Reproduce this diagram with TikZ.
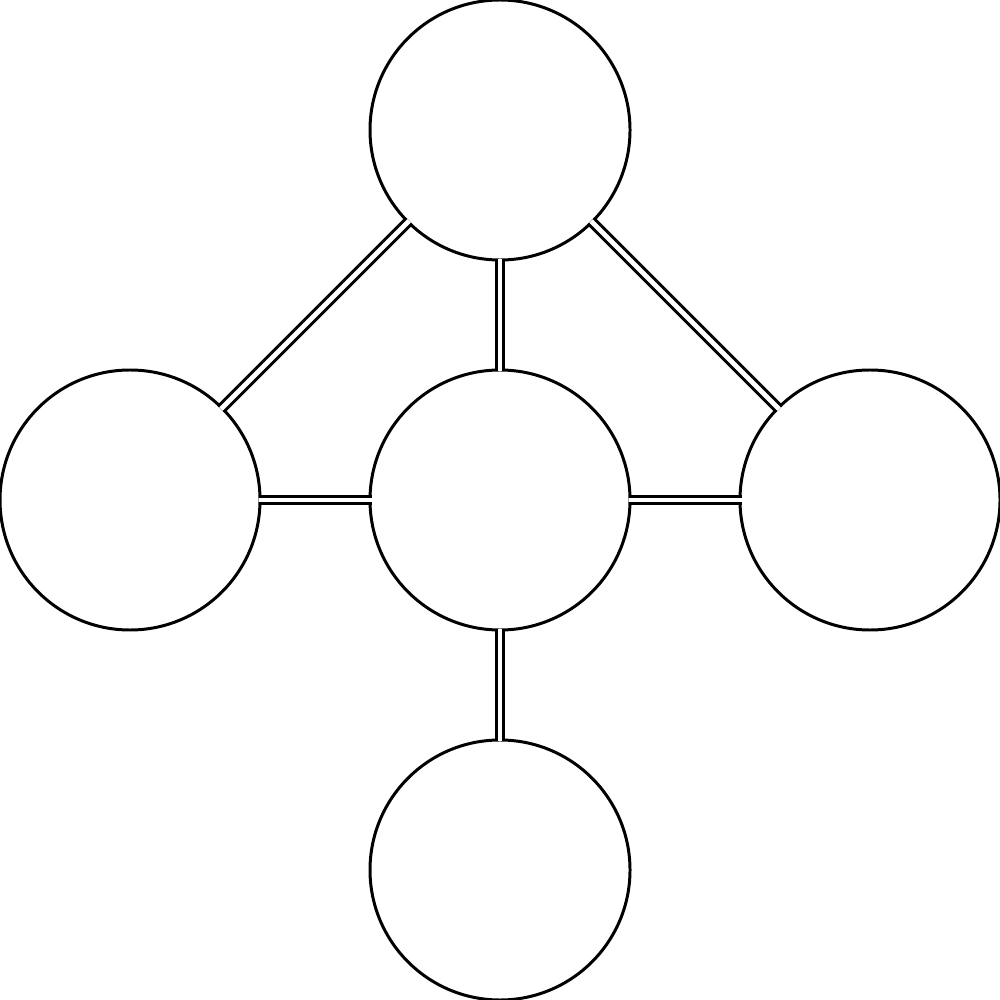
\documentclass[tikz,border=0pt]{standalone}
\usetikzlibrary{positioning}
\tikzset{
	bubble/.style={
		circle,
		draw=black, line width=0.85pt,
		fill=white,
		inner sep=0pt,
		minimum size=2.6cm},
	link/.style={
		draw=black, line width=0.85pt,
		double=white, double distance=1.4pt,
		shorten <=-0.85pt, shorten >=-0.85pt},
}
\begin{document}
\begin{tikzpicture}[node distance=1.07cm]
	\useasboundingbox (0,0) rectangle (10,-10);
	\node[bubble] (mid) at (5,-5) {};
	\node[bubble, above=of mid] (top) {};
	\node[bubble, left=of mid] (left) {};
	\node[bubble, right=of mid] (right) {};
	\node[bubble, below=of mid] (bottom) {};
	% double connectors
	\draw[link] (top) -- (mid);
	\draw[link] (top) -- (left);
	\draw[link] (top) -- (right);
	\draw[link] (left) -- (mid);
	\draw[link] (mid) -- (right);
	\draw[link] (mid) -- (bottom);
\end{tikzpicture}
\end{document}
